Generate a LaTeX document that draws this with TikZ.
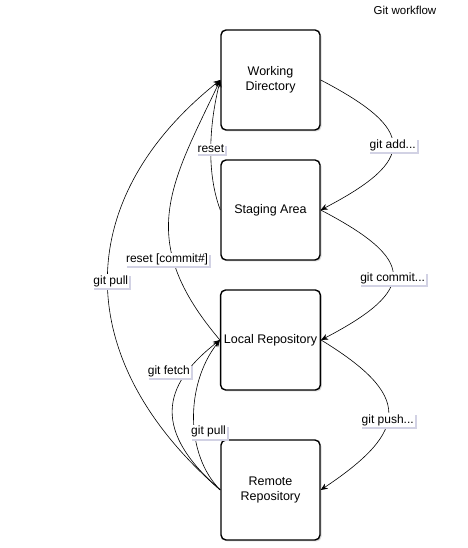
\documentclass[tikz,border=0pt]{standalone}
\usepackage{fontspec}
\setmainfont{Liberation Sans}
\usetikzlibrary{positioning}
\usetikzlibrary{arrows.meta}
\usetikzlibrary{shadows}
\definecolor{shd}{RGB}{210, 210, 228}
\begin{document}
\begin{tikzpicture}
	[x=1pt,y=1pt,
	 box/.style={rectangle, rounded corners=5pt, minimum width=99pt, minimum height=100pt, line width=1.4pt, draw=black, fill=white, align=center, font=\fontsize{12.5}{14.5}\selectfont, drop shadow={shadow xshift=1.5pt, shadow yshift=-1.5pt, fill=black, opacity=0.15}},
	 lbl/.style={fill=white, inner sep=1.3pt, font=\fontsize{12}{14}\selectfont, drop shadow={shadow xshift=2pt, shadow yshift=-2pt, fill=shd, opacity=1}},
	 flow/.style={line width=0.6pt, -{Stealth[length=7pt,width=6pt]}}]
	\useasboundingbox (0,0) rectangle (467,548);
	\node (title) [font=\fontsize{11.5}{13}\selectfont] at (405,538) {Git workflow};
	\node (wd) [box] at (270.5,468) {Working\\Directory};
	\node (sa) [box, below=28.6pt of wd] {Staging Area};
	\node (lr) [box, below=28.6pt of sa] {Local Repository};
	\node (rr) [box, below=48.6pt of lr] {Remote\\Repository};
	% right side
	\draw [flow] (wd.east) .. controls +(96,-50) and +(96,50) .. node (add) [lbl, pos=0.5] {git add...} (sa.east);
	\draw [flow] (sa.east) .. controls +(96,-50) and +(96,50) .. node (commit) [lbl, pos=0.53] {git commit...} (lr.east);
	\draw [flow] (lr.east) .. controls +(90,-55) and +(90,60) .. node (push) [lbl, pos=0.55] {git push...} (rr.east);
	% left side
	\draw [flow] (sa.west) .. controls +(-15,40) and +(-10,-40) .. node (reset) [lbl, pos=0.47] {reset} (wd.west);
	\draw [flow] (lr.west) .. controls +(-85,100) and +(-50,-105) .. node (resetc) [lbl, pos=0.3, xshift=-6pt] {reset [commit\#]} (wd.west);
	\draw [flow] (rr.west) .. controls +(-150,130) and +(-150,-120) .. node (pull) [lbl, pos=0.5, xshift=3pt] {git pull} (wd.west);
	\draw [flow] (rr.west) .. controls +(-75,65) and +(-51,-40) .. node (fetch) [lbl, pos=0.75, xshift=-19pt] {git fetch} (lr.west);
	\draw [flow] (rr.west) .. controls +(-35,35) and +(-35,-45) .. node (pull2) [lbl, pos=0.42, xshift=14pt] {git pull} (lr.west);
\end{tikzpicture}
\end{document}
